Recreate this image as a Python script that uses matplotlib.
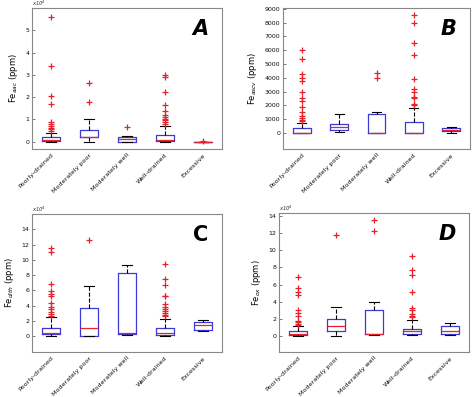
import numpy as np
import matplotlib.pyplot as plt

# drainage classes
classes = ['Poorly-drained', 'Moderately poor', 'Moderately well', 'Well-drained', 'Excessive']

# Panel A, Fe_aac (x10^4 ppm)
a_lo = [0.0, 0.0, 0.0, 0.0, 0.0]
a_q1 = [0.02, 0.20, 0.0, 0.01, 0.0]
a_med = [0.09, 0.23, 0.12, 0.09, 0.0]
a_q3 = [0.23, 0.53, 0.23, 0.28, 0.0]
a_hi = [0.38, 1.01, 0.26, 0.70, 0.0]
a_out = [[5.59, 3.39, 2.07, 1.70, 0.90, 0.80, 0.70, 0.62, 0.55, 0.50],
         [2.64, 1.80],
         [0.67],
         [3.00, 2.88, 2.22, 1.63, 1.38, 1.20, 1.10, 1.02, 0.95, 0.88, 0.80],
         [0.05]]

# Panel B, Fe_asc (ppm)
b_lo = [0, 100, 0, 0, 20]
b_q1 = [0, 220, 0, 0, 120]
b_med = [20, 460, 30, 20, 230]
b_q3 = [360, 650, 1400, 800, 330]
b_hi = [730, 1400, 1550, 1800, 400]
b_out = [[6000, 5350, 4300, 4000, 3800, 3000, 2550, 2300, 1900, 1500, 1200, 1050, 950, 850],
         [],
         [4350, 4000],
         [8550, 7950, 6550, 5650, 3900, 3200, 3000, 2600, 2500, 2100, 2000],
         []]

# Panel C, Fe_dith (x10^4 ppm)
c_lo = [0.0, 0.0, 0.17, 0.0, 0.69]
c_q1 = [0.26, 0.0, 0.35, 0.17, 0.78]
c_med = [0.39, 1.04, 0.43, 0.43, 1.47]
c_q3 = [1.08, 3.63, 8.30, 1.04, 1.90]
c_hi = [2.46, 6.57, 9.29, 2.25, 2.07]
c_out = [[11.5, 11.0, 6.8, 5.9, 5.5, 5.3, 4.3, 3.8, 3.5, 3.2, 2.9, 2.6],
         [12.66],
         [],
         [9.4, 7.5, 6.7, 5.3, 5.2, 4.2, 3.8, 3.5, 3.3, 3.0, 2.8, 2.6],
         []]

# Panel D, Fe_ox (x10^4 ppm)
d_lo = [0.0, 0.0, 0.08, 0.08, 0.15]
d_q1 = [0.12, 0.65, 0.19, 0.27, 0.27]
d_med = [0.30, 1.15, 0.30, 0.54, 0.58]
d_q3 = [0.58, 2.00, 3.08, 0.88, 1.23]
d_hi = [1.15, 3.42, 3.92, 1.92, 1.50]
d_out = [[6.85, 5.6, 5.1, 4.8, 3.0, 2.7, 2.3, 1.8, 1.6, 1.4, 1.3],
         [11.8],
         [13.5, 12.2],
         [9.35, 7.7, 7.1, 5.2, 3.3, 3.1, 2.6, 2.3, 2.2],
         []]

panels = [
    ('A', r'Fe$_{aac}$ (ppm)', a_lo, a_q1, a_med, a_q3, a_hi, a_out, (-0.33, 6.0), np.arange(0, 6, 1), True),
    ('B', r'Fe$_{ascv}$ (ppm)', b_lo, b_q1, b_med, b_q3, b_hi, b_out, (-1160, 9050), np.arange(0, 9001, 1000), False),
    ('C', r'Fe$_{dith}$ (ppm)', c_lo, c_q1, c_med, c_q3, c_hi, c_out, (-2.07, 16.0), np.arange(0, 15, 2), True),
    ('D', r'Fe$_{ox}$ (ppm)', d_lo, d_q1, d_med, d_q3, d_hi, d_out, (-1.85, 14.35), np.arange(0, 15, 2), True),
]

# axes rectangles in pixels (left, top, right, bottom)
W, H = 474, 397
rects = [(32, 8, 222, 149), (283, 8, 470, 149), (32, 214, 222, 352), (279, 213, 469, 352)]

fig = plt.figure(figsize=(W / 100, H / 100), dpi=100)
fig.patch.set_facecolor('white')

for (letter, ylab, lo, q1, med, q3, hi, out, ylim, yt, sci), (l, t, r, b) in zip(panels, rects):
    ax = fig.add_axes([l / W, 1 - b / H, (r - l) / W, (b - t) / H])
    stats = []
    for i in range(len(classes)):
        stats.append(dict(whislo=lo[i], q1=q1[i], med=med[i], q3=q3[i], whishi=hi[i], fliers=out[i]))
    ax.bxp(stats, positions=range(1, 6), widths=0.48, capwidths=0.24,
           boxprops=dict(color='#3a3ad8', lw=0.9),
           medianprops=dict(color='#e8202a', lw=0.9),
           whiskerprops=dict(color='black', lw=0.8, ls='--'),
           capprops=dict(color='black', lw=0.8),
           flierprops=dict(marker='+', markeredgecolor='#e8202a', markersize=3.8, mew=0.9, ls='none'))
    ax.set_xlim(0.5, 5.5)
    ax.set_ylim(*ylim)
    ax.set_yticks(yt)
    ax.set_yticklabels([str(v) for v in yt], fontsize=4.5)
    ax.set_xticks(range(1, 6))
    ax.set_xticklabels(classes, rotation=45, ha='right', rotation_mode='anchor', fontsize=4.6)
    ax.tick_params(direction='in', length=2, width=0.5, colors='#444444', pad=2)
    ax.tick_params(axis='x', length=0, pad=2.5)
    for lab in ax.get_xticklabels() + ax.get_yticklabels():
        lab.set_color('#111111')
    for s in ax.spines.values():
        s.set_color('#888888')
        s.set_linewidth(0.8)
    ax.set_ylabel(ylab, fontsize=6, labelpad=4)
    ax.text(0.93, 0.92, letter, transform=ax.transAxes, fontsize=15, fontweight='bold',
            style='normal' if letter == 'C' else 'italic', ha='right', va='top')
    if sci:
        ax.text(0.0, 1.0, r'x10$^4$', transform=ax.transAxes, fontsize=3.8, style='italic',
                ha='left', va='bottom', color='#333333')

fig.savefig('out.png', dpi=100, facecolor='white')
